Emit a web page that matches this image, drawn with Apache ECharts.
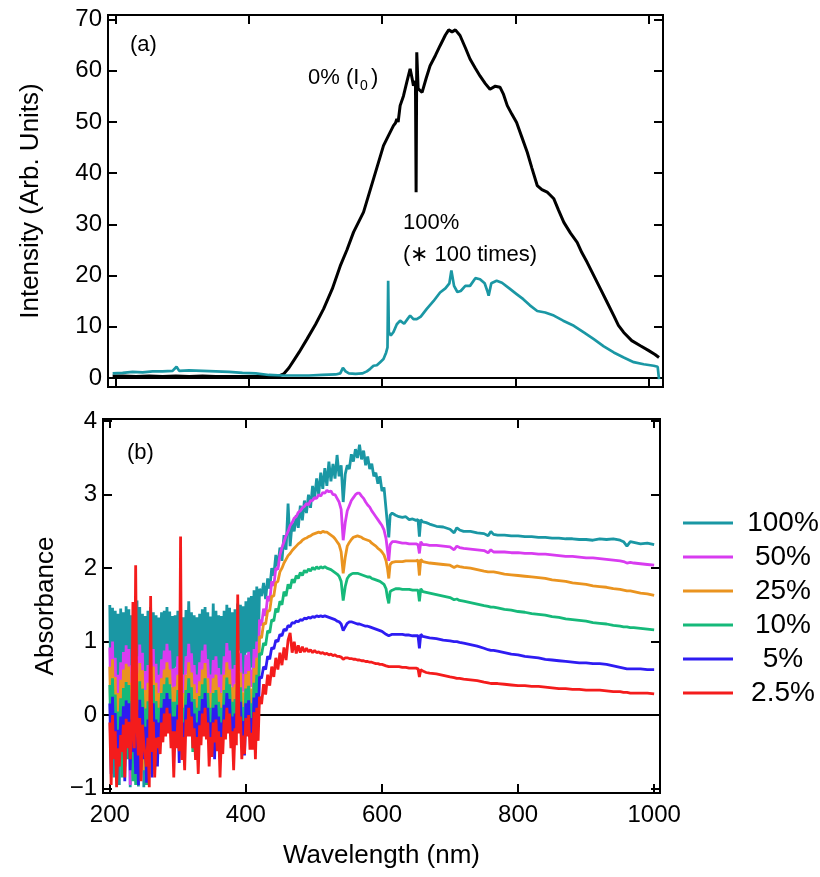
<!DOCTYPE html>
<html>
<head>
<meta charset="utf-8">
<script src="https://cdn.jsdelivr.net/npm/echarts@6/dist/echarts.min.js"></script>
<style>
html,body{margin:0;padding:0;background:#fff;}
#chart{width:820px;height:877px;}
</style>
</head>
<body>
<div id="chart"></div>
<script>
const FONT = '"Liberation Sans", Arial, sans-serif';

// ---------- tick labels ----------
const wavelengthTicks = [200, 400, 600, 800, 1000];
const intensityTicks = [0, 10, 20, 30, 40, 50, 60, 70];
const absorbanceTicks = [-1, 0, 1, 2, 3, 4];

// ---------- panel (a): intensity ----------
const wlI0 = [195,210,230,250,270,290,310,330,350,370,
  390,410,430,445,452,460,467,475,487,500,
  512,525,537,547,557,572,587,602,610,617,
  620,622,624,627,632,637,642,645,647,650,
  651,652,654,660,666,672,680,687,695,700,
  705,710,717,725,732,740,747,755,762,770,
  777,782,788,795,802,810,818,825,833,840,
  848,852,858,865,873,883,893,900,908,918,
  928,938,948,955,963,975,988,1000,1010,1016];
const intensity0 = [0.4,0.4,0.3,0.4,0.3,0.4,0.3,0.4,0.3,0.3,
  0.3,0.3,0.3,0.4,0.8,2.0,3.4,5.0,7.6,10.5,
  13.5,17.4,21.9,25.0,28.5,32.4,38.9,45.4,47.5,49.3,
  49.8,50.6,50.0,53.2,55.1,57.8,60.4,58.5,57.1,58.0,
  36.3,63.6,56.5,55.8,58.5,61.0,63.0,64.9,67.0,68.0,
  67.6,68.0,66.9,64.5,62.3,60.5,59.0,57.5,56.4,57.0,
  56.8,55.5,53.2,51.5,49.9,47.0,44.1,41.0,37.6,36.8,
  36.3,35.8,35.0,32.8,30.4,28.3,26.5,24.5,22.6,20.0,
  17.4,14.8,12.2,10.3,8.9,7.3,6.3,5.4,4.6,4.0];

const wlI100 = [195,210,225,240,255,270,285,291,295,310,
  330,350,370,390,410,430,450,470,490,510,
  530,537,541,545,550,560,570,577,582,587,
  592,597,602,606,608,609,610,613,617,622,
  627,633,638,642,647,652,658,667,677,687,
  695,701,704,708,713,718,725,732,740,747,
  754,758,760,764,772,780,792,802,812,822,
  833,845,858,872,888,903,918,933,948,963,
  978,993,1008,1014,1016];
const intensity100x = [0.9,1.0,1.2,1.1,1.3,1.3,1.4,2.2,1.4,1.5,
  1.4,1.3,1.2,1.0,0.9,0.6,0.5,0.5,0.5,0.6,
  0.7,0.9,2.0,1.3,0.9,0.8,0.9,1.3,1.8,2.4,
  2.5,3.1,3.7,5.0,6.0,19.0,9.0,8.3,9.0,10.5,
  11.2,10.6,11.5,12.2,11.5,11.5,12.0,13.5,15.0,16.7,
  17.5,18.5,21.0,18.0,16.8,17.0,18.0,18.0,19.5,19.3,
  18.5,17.0,16.1,18.5,19.0,18.6,17.4,16.4,15.4,14.2,
  13.1,12.8,12.2,11.2,10.2,8.9,7.6,6.2,5.0,4.0,
  3.1,2.7,2.4,2.2,-0.2];

// ---------- panel (b): absorbance ----------
const wlB = [
  200,202,204,206,208,210,212,214,216,218,
  220,222,224,226,228,230,232,234,236,238,
  240,242,244,246,248,250,252,254,256,258,
  260,262,264,266,268,270,272,274,276,278,
  280,282,284,286,288,290,292,294,296,298,
  300,302,304,306,308,310,312,314,316,318,
  320,322,324,326,328,330,332,334,336,338,
  340,342,344,346,348,350,352,354,356,358,
  360,362,364,366,368,370,372,374,376,378,
  380,382,384,386,388,390,392,394,396,398,
  400,402,404,406,408,410,412,414,416,418,
  420,
  423,426,429,432,435,438,441,444,447,450,
  453,456,459,462,465,468,471,474,477,480,
  483,486,489,492,495,498,501,504,507,510,
  513,516,519,522,525,528,531,534,537,540,
  543,546,549,552,555,558,561,564,567,570,
  573,576,579,582,585,588,591,594,597,600,
  603,606,
  608,610,612,615,620,625,630,635,640,645,
  650,653,655,657,660,665,670,680,690,700,
  706,710,714,720,730,740,750,756,760,764,
  770,780,790,800,810,820,830,840,850,860,
  870,880,890,900,910,920,930,940,950,955,
  960,965,970,980,990,1000];

const abs100 = [
  1.50,-0.30,1.46,-0.85,1.42,0.10,1.38,-0.95,1.45,-0.40,
  1.40,-0.70,1.48,-0.20,1.44,-0.98,1.36,-0.50,1.40,-0.90,
  1.56,-0.97,1.47,-0.60,1.38,-0.98,1.35,-0.95,1.42,-0.30,
  1.47,-0.80,1.40,-0.10,1.36,-0.55,1.33,0.55,1.40,0.70,
  1.42,0.80,1.47,0.85,1.41,0.62,1.35,0.30,1.36,0.66,
  1.42,0.58,1.37,0.45,1.33,0.52,1.43,0.80,1.55,0.82,
  1.40,0.62,1.36,0.40,1.33,0.20,1.38,0.70,1.44,0.82,
  1.47,0.76,1.40,0.50,1.34,0.48,1.52,0.70,1.42,0.60,
  1.36,0.30,1.35,0.55,1.42,0.76,1.50,0.85,1.46,0.62,
  1.40,0.35,1.44,0.68,1.52,0.88,1.50,0.55,1.48,0.56,
  1.55,0.85,1.60,0.60,1.62,0.65,1.70,0.90,1.75,0.75,
  1.72,
  1.62,1.80,1.58,1.86,1.72,2.00,1.90,2.18,2.02,2.28,
  2.10,2.45,2.25,2.88,2.30,2.62,2.50,2.72,2.55,2.85,
  2.65,2.92,2.75,3.00,2.82,3.12,2.95,3.22,3.00,3.30,
  3.08,3.36,3.12,3.45,3.18,3.42,3.22,3.54,3.25,3.40,
  2.90,3.28,3.40,3.35,3.55,3.45,3.62,3.50,3.68,3.48,
  3.60,3.40,3.52,3.35,3.42,3.25,3.30,3.15,3.25,3.05,
  3.10,2.80,
  2.60,2.42,2.72,2.75,2.72,2.70,2.69,2.70,2.66,2.67,
  2.65,2.66,2.43,2.66,2.63,2.62,2.60,2.57,2.56,2.53,
  2.48,2.55,2.52,2.50,2.50,2.48,2.47,2.44,2.50,2.46,
  2.45,2.45,2.44,2.44,2.43,2.43,2.42,2.42,2.41,2.41,
  2.40,2.40,2.39,2.39,2.38,2.40,2.39,2.40,2.38,2.36,
  2.30,2.36,2.35,2.33,2.34,2.32];

const abs50 = [
  0.92,-0.20,1.00,-0.35,0.78,-0.55,0.55,-0.10,0.72,-0.30,
  0.86,0.05,0.95,-0.15,0.90,-0.95,0.68,-0.60,0.55,-0.05,
  0.80,-0.30,0.96,0.10,0.85,-0.45,0.60,-0.20,0.68,-0.35,
  0.97,0.05,0.90,-0.40,0.70,-0.10,0.55,0.32,0.76,0.48,
  0.88,0.56,0.97,0.60,0.88,0.40,0.63,0.15,0.64,0.40,
  0.80,0.36,0.64,0.22,0.55,0.30,0.80,0.56,0.97,0.56,
  0.84,0.40,0.68,0.22,0.55,0.26,0.72,0.44,0.88,0.56,
  0.96,0.52,0.76,0.28,0.55,0.28,0.75,0.48,0.80,0.36,
  0.64,0.22,0.55,0.32,0.80,0.52,0.98,0.60,0.88,0.40,
  0.63,0.18,0.68,0.44,0.92,0.60,0.84,0.32,0.56,0.32,
  0.82,0.56,0.86,0.38,0.62,0.38,0.90,0.62,1.00,0.50,
  1.30,
  1.22,1.45,1.35,1.62,1.55,1.82,1.76,2.00,1.98,2.18,
  2.28,2.36,2.44,2.50,2.58,2.62,2.68,2.70,2.76,2.78,
  2.82,2.84,2.88,2.86,2.92,2.92,2.96,2.95,3.00,2.98,
  3.03,3.02,3.06,3.04,3.05,3.00,3.00,2.95,2.90,2.80,
  2.38,2.62,2.78,2.85,2.92,2.96,3.00,3.02,3.02,2.98,
  2.95,2.90,2.86,2.83,2.78,2.74,2.70,2.66,2.62,2.58,
  2.52,2.40,
  2.25,2.10,2.32,2.36,2.36,2.35,2.34,2.34,2.33,2.33,
  2.33,2.32,2.20,2.36,2.32,2.32,2.31,2.31,2.30,2.29,
  2.25,2.30,2.28,2.27,2.26,2.25,2.24,2.21,2.25,2.22,
  2.22,2.22,2.21,2.21,2.20,2.20,2.19,2.19,2.18,2.17,
  2.16,2.16,2.15,2.14,2.14,2.13,2.12,2.11,2.10,2.09,
  2.07,2.08,2.07,2.06,2.05,2.04];

const abs25 = [
  0.66,-0.45,0.76,-0.15,0.52,-0.62,0.30,-0.40,0.48,-0.70,
  0.62,-0.10,0.70,-0.50,0.66,-0.30,0.44,-0.85,0.30,-0.20,
  0.57,-0.60,0.71,-0.05,0.61,-0.75,0.34,-0.40,0.44,-0.15,
  0.72,-0.55,0.66,-0.20,0.44,-0.65,0.30,0.07,0.50,0.23,
  0.62,0.31,0.72,0.35,0.62,0.15,0.38,-0.10,0.39,0.15,
  0.55,0.11,0.39,-0.02,0.30,0.07,0.55,0.31,0.72,0.31,
  0.58,0.15,0.42,-0.02,0.30,0.03,0.46,0.19,0.62,0.31,
  0.71,0.27,0.50,0.03,0.30,0.03,0.50,0.23,0.55,0.11,
  0.38,-0.02,0.30,0.07,0.55,0.27,0.72,0.35,0.62,0.15,
  0.38,-0.08,0.42,0.19,0.66,0.35,0.58,0.07,0.31,0.07,
  0.56,0.31,0.60,0.13,0.36,0.13,0.64,0.36,0.78,0.25,
  1.07,
  1.05,1.25,1.24,1.42,1.42,1.62,1.62,1.80,1.82,1.95,
  2.00,2.07,2.12,2.17,2.20,2.24,2.27,2.30,2.33,2.35,
  2.38,2.40,2.41,2.43,2.44,2.46,2.47,2.48,2.49,2.48,
  2.50,2.49,2.49,2.47,2.45,2.43,2.40,2.36,2.32,2.22,
  1.93,2.15,2.30,2.35,2.39,2.42,2.43,2.44,2.43,2.42,
  2.40,2.39,2.38,2.37,2.34,2.32,2.30,2.27,2.25,2.22,
  2.18,2.10,
  2.00,1.86,2.05,2.08,2.09,2.09,2.09,2.10,2.10,2.10,
  2.10,2.11,1.90,2.12,2.09,2.08,2.07,2.06,2.05,2.04,
  2.01,2.03,2.02,2.01,2.00,1.98,1.96,1.95,1.95,1.95,
  1.94,1.92,1.91,1.90,1.89,1.88,1.87,1.86,1.84,1.83,
  1.82,1.80,1.79,1.78,1.76,1.75,1.74,1.72,1.71,1.70,
  1.69,1.69,1.68,1.66,1.65,1.63];

const abs10 = [
  0.41,-0.50,0.50,-0.25,0.28,-0.72,0.05,-0.35,0.23,-0.85,
  0.37,-0.20,0.45,-0.60,0.41,-0.40,0.19,-0.90,0.05,-0.95,
  0.32,-0.30,0.46,-0.70,0.36,-0.20,0.09,-0.95,0.19,-0.45,
  0.47,-0.25,0.41,-0.75,0.19,-0.30,0.10,-0.13,0.30,0.03,
  0.42,0.11,0.51,0.15,0.42,-0.05,0.18,-0.30,0.18,-0.05,
  0.34,-0.09,0.18,-0.22,0.10,-0.13,0.34,0.11,0.50,0.11,
  0.38,-0.50,0.22,-0.21,0.10,-0.17,0.26,-0.01,0.42,0.11,
  0.50,0.07,0.30,-0.17,0.10,-0.17,0.30,0.03,0.34,-0.09,
  0.18,-0.22,0.10,-0.13,0.34,0.07,0.51,0.15,0.42,-0.05,
  0.18,-0.28,0.22,-0.01,0.46,0.15,0.38,-0.13,0.11,-0.13,
  0.36,0.11,0.40,-0.07,0.16,-0.07,0.44,0.16,0.55,0.05,
  0.84,
  0.82,0.98,0.95,1.15,1.12,1.30,1.28,1.45,1.40,1.55,
  1.50,1.68,1.62,1.78,1.72,1.85,1.80,1.90,1.86,1.94,
  1.90,1.97,1.94,1.99,1.96,2.01,1.98,2.02,1.99,2.02,
  2.00,2.02,2.00,1.99,1.98,1.96,1.94,1.92,1.89,1.82,
  1.56,1.75,1.86,1.90,1.92,1.93,1.93,1.93,1.92,1.91,
  1.90,1.89,1.88,1.88,1.86,1.85,1.84,1.83,1.82,1.80,
  1.78,1.72,
  1.60,1.52,1.68,1.70,1.72,1.72,1.71,1.71,1.71,1.70,
  1.70,1.70,1.55,1.72,1.68,1.67,1.66,1.64,1.62,1.60,
  1.57,1.58,1.56,1.55,1.53,1.51,1.49,1.48,1.47,1.47,
  1.46,1.44,1.43,1.41,1.40,1.38,1.37,1.36,1.34,1.33,
  1.31,1.30,1.29,1.28,1.26,1.25,1.24,1.22,1.21,1.20,
  1.20,1.19,1.19,1.18,1.17,1.16];

const abs5 = [
  0.16,-0.80,0.25,-0.45,0.03,-0.85,-0.20,-0.55,-0.02,-0.40,
  0.12,-0.90,0.20,-0.35,0.16,-0.75,-0.06,-0.50,-0.20,-0.80,
  0.07,-0.95,0.21,-0.40,0.11,-0.60,-0.16,-0.92,-0.06,-0.35,
  0.22,-0.85,0.16,-0.45,-0.06,-0.70,-0.10,-0.33,0.10,-0.17,
  0.22,-0.09,0.30,-0.05,0.22,-0.25,-0.02,-0.50,-0.02,-0.25,
  0.14,-0.65,-0.02,-0.41,-0.10,-0.33,0.14,-0.09,0.30,-0.09,
  0.18,-0.25,0.02,-0.41,-0.10,-0.37,0.06,-0.21,0.22,-0.09,
  0.30,-0.13,0.10,-0.37,-0.10,-0.37,0.10,-0.60,0.14,-0.29,
  -0.02,-0.41,-0.10,-0.33,0.14,-0.13,0.30,-0.05,0.22,-0.25,
  -0.02,-0.48,0.02,-0.21,0.26,-0.05,0.18,-0.33,-0.08,-0.55,
  0.16,-0.09,0.20,-0.27,-0.04,-0.27,0.24,-0.04,0.30,-0.15,
  0.52,
  0.50,0.66,0.62,0.80,0.76,0.92,0.90,1.02,1.00,1.10,
  1.08,1.17,1.15,1.22,1.20,1.26,1.25,1.28,1.27,1.30,
  1.29,1.32,1.31,1.33,1.32,1.34,1.33,1.35,1.34,1.35,
  1.34,1.35,1.34,1.33,1.32,1.31,1.30,1.28,1.27,1.24,
  1.15,1.20,1.25,1.27,1.27,1.26,1.25,1.24,1.24,1.23,
  1.22,1.21,1.21,1.20,1.19,1.18,1.17,1.16,1.15,1.14,
  1.12,1.10,
  1.09,1.08,1.10,1.10,1.10,1.10,1.10,1.09,1.09,1.08,
  1.08,1.08,0.91,1.10,1.07,1.06,1.05,1.04,1.02,1.01,
  1.00,1.00,0.99,0.98,0.96,0.94,0.91,0.89,0.88,0.88,
  0.87,0.85,0.83,0.82,0.80,0.79,0.78,0.76,0.75,0.74,
  0.73,0.72,0.71,0.71,0.70,0.70,0.69,0.67,0.65,0.64,
  0.63,0.63,0.63,0.63,0.62,0.62];

const abs2p5 = [
  -0.10,-0.95,0.00,-0.60,-0.22,-0.98,-0.45,-0.70,-0.27,-0.50,
  -0.13,-0.85,-0.05,-0.45,-0.09,-0.60,-0.31,1.54,-0.45,2.04,
  -0.18,-0.55,-0.04,-0.90,-0.13,-0.40,-0.40,-0.70,-0.31,-0.98,
  1.62,-0.50,-0.09,-0.85,-0.31,-0.45,-0.30,-0.53,-0.10,-0.37,
  0.02,-0.29,0.10,-0.25,0.02,-0.45,-0.22,-0.85,-0.22,-0.45,
  -0.06,-0.49,2.43,-0.61,-0.30,-0.75,-0.06,-0.29,0.10,-0.29,
  -0.02,-0.45,-0.18,-0.61,-0.30,-0.80,-0.14,-0.41,0.02,-0.29,
  0.10,-0.33,-0.10,-0.70,-0.30,-0.57,-0.10,-0.37,-0.06,-0.49,
  -0.22,-0.85,-0.30,-0.53,-0.06,-0.33,0.10,-0.25,0.02,-0.45,
  -0.22,-0.75,-0.18,-0.41,1.64,-0.25,-0.02,-0.60,-0.28,-0.53,
  -0.04,-0.29,0.00,-0.47,-0.24,-0.47,0.04,-0.60,0.10,-0.35,
  0.25,
  0.15,0.42,0.28,0.55,0.40,0.66,0.52,0.78,0.62,0.85,
  0.68,0.92,0.75,1.02,1.12,0.85,1.00,0.84,0.95,0.85,
  0.93,0.86,0.91,0.86,0.89,0.85,0.88,0.85,0.86,0.84,
  0.85,0.83,0.84,0.82,0.83,0.81,0.82,0.80,0.80,0.79,
  0.76,0.78,0.78,0.77,0.77,0.76,0.76,0.75,0.75,0.74,
  0.74,0.73,0.73,0.72,0.72,0.71,0.70,0.70,0.69,0.69,
  0.68,0.67,
  0.66,0.66,0.66,0.66,0.66,0.66,0.65,0.65,0.64,0.64,
  0.64,0.63,0.52,0.62,0.60,0.58,0.57,0.56,0.54,0.52,
  0.51,0.50,0.50,0.49,0.48,0.47,0.45,0.44,0.43,0.43,
  0.43,0.42,0.41,0.40,0.40,0.39,0.39,0.38,0.37,0.36,
  0.36,0.35,0.35,0.34,0.34,0.34,0.33,0.32,0.32,0.31,
  0.31,0.30,0.30,0.30,0.30,0.29];

const absNames = ['100%', '50%', '25%', '10%', '5%', '2.5%'];
const absValues = [abs100, abs50, abs25, abs10, abs5, abs2p5];
const absColors = ['#1a97a4', '#d83cf0', '#ea9420', '#16b97a', '#2e1cf2', '#f41c1c'];

absValues.forEach((a, i) => {
  if (a.length !== wlB.length) throw new Error(absNames[i] + ' length ' + a.length + ' vs ' + wlB.length);
});
if (wlI0.length !== intensity0.length) throw new Error('I0 length');
if (wlI100.length !== intensity100x.length) throw new Error('I100 length');

const pairs = (xs, ys) => xs.map((x, i) => [x, ys[i]]);

const tickStyle = { inside: true, length: 9, lineStyle: { color: '#000', width: 2 } };
const labelStyle = { color: '#000', fontSize: 24, fontFamily: FONT };

function xAx(gridIndex, position, min, max, showLabels, extra) {
  return Object.assign({
    type: 'value', gridIndex, position, min, max,
    axisLine: { show: false, onZero: false },
    axisTick: Object.assign({ customValues: wavelengthTicks }, tickStyle),
    axisLabel: showLabels ? Object.assign({ customValues: wavelengthTicks, margin: 10, formatter: v => String(v) }, labelStyle) : { show: false },
    splitLine: { show: false }
  }, extra || {});
}
function yAx(gridIndex, position, min, max, ticks, showLabels, extra) {
  return Object.assign({
    type: 'value', gridIndex, position, min, max,
    axisLine: { show: false, onZero: false },
    axisTick: Object.assign({ customValues: ticks }, tickStyle),
    axisLabel: showLabels ? Object.assign({
      customValues: ticks, margin: 6,
      formatter: v => (v < 0 ? '\u2212' + (-v) : String(v))
    }, labelStyle) : { show: false },
    splitLine: { show: false }
  }, extra || {});
}
function zeroAx(gridIndex, min, max, yIndex) {
  return {
    type: 'value', gridIndex, position: 'bottom', min, max,
    axisLine: { show: true, onZero: true, onZeroAxisIndex: yIndex, lineStyle: { color: '#000', width: 2 } },
    axisTick: { show: false }, axisLabel: { show: false }, splitLine: { show: false }
  };
}

const A_MIN = 188, A_MAX = 1022, B_MIN = 190, B_MAX = 1008.6;

const series = [
  { name: 'I0', type: 'line', xAxisIndex: 0, yAxisIndex: 0, data: pairs(wlI0, intensity0),
    color: '#000', lineStyle: { width: 3, color: '#000' }, showSymbol: false, symbol: 'none', z: 2 },
  { name: 'I100', type: 'line', xAxisIndex: 0, yAxisIndex: 0, data: pairs(wlI100, intensity100x),
    color: absColors[0], lineStyle: { width: 2.7, color: absColors[0] }, showSymbol: false, symbol: 'none', z: 2 }
];
absNames.forEach((n, i) => {
  series.push({
    name: n, type: 'line', xAxisIndex: 2, yAxisIndex: 2,
    data: pairs(wlB, absValues[i]),
    color: absColors[i], lineStyle: { width: 2.8, color: absColors[i] },
    showSymbol: false, symbol: 'none', z: 2
  });
});

const chart = echarts.init(document.getElementById('chart'), null, { renderer: 'canvas' });
chart.setOption({
  animation: false,
  backgroundColor: '#fff',
  grid: [
    { left: 108, top: 15, width: 555, height: 372, show: true, borderColor: '#000', borderWidth: 2, backgroundColor: 'transparent' },
    { left: 103, top: 419, width: 557, height: 374, show: true, borderColor: '#000', borderWidth: 2, backgroundColor: 'transparent' }
  ],
  xAxis: [
    xAx(0, 'bottom', A_MIN, A_MAX, false),
    xAx(0, 'top', A_MIN, A_MAX, false),
    xAx(1, 'bottom', B_MIN, B_MAX, true, {
      name: 'Wavelength (nm)', nameLocation: 'middle', nameGap: 50,
      nameTextStyle: { color: '#000', fontSize: 26, fontFamily: FONT }
    }),
    xAx(1, 'top', B_MIN, B_MAX, false),
    zeroAx(0, A_MIN, A_MAX, 0),
    zeroAx(1, B_MIN, B_MAX, 2)
  ],
  yAxis: [
    yAx(0, 'left', -1.75, 70.9, intensityTicks, true, {
      name: 'Intensity (Arb. Units)', nameLocation: 'middle', nameGap: 64,
      nameTextStyle: { color: '#000', fontSize: 26, fontFamily: FONT }
    }),
    yAx(0, 'right', -1.75, 70.9, intensityTicks, false),
    yAx(1, 'left', -1.06, 4.03, absorbanceTicks, true, {
      name: 'Absorbance', nameLocation: 'middle', nameGap: 44,
      nameTextStyle: { color: '#000', fontSize: 26, fontFamily: FONT }
    }),
    yAx(1, 'right', -1.06, 4.03, absorbanceTicks, false)
  ],
  legend: {
    data: absNames, orient: 'vertical', left: 678, top: 504,
    icon: 'rect', itemWidth: 50, itemHeight: 3, itemGap: 6,
    selectedMode: false,
    formatter: '{c|{name}}',
    textStyle: { rich: { c: { width: 90, align: 'center', fontSize: 28, lineHeight: 28, fontFamily: FONT, color: '#000' } } }
  },
  graphic: [
    { type: 'text', left: 130, top: 34, style: { text: '(a)', fontSize: 22, fontFamily: FONT, fill: '#000' } },
    { type: 'text', left: 127, top: 442, style: { text: '(b)', fontSize: 22, fontFamily: FONT, fill: '#000' } },
    { type: 'text', left: 308, top: 67, style: { text: '0% (I', fontSize: 22, fontFamily: FONT, fill: '#000' } },
    { type: 'text', left: 360, top: 79, style: { text: '0', fontSize: 14, fontFamily: FONT, fill: '#000' } },
    { type: 'text', left: 371, top: 67, style: { text: ')', fontSize: 22, fontFamily: FONT, fill: '#000' } },
    { type: 'text', left: 403, top: 212, style: { text: '100%', fontSize: 22, fontFamily: FONT, fill: '#000' } },
    { type: 'text', left: 403, top: 244, style: { text: '(\u2217 100 times)', fontSize: 22, fontFamily: FONT, fill: '#000' } }
  ],
  series: series
});
</script>
</body>
</html>
